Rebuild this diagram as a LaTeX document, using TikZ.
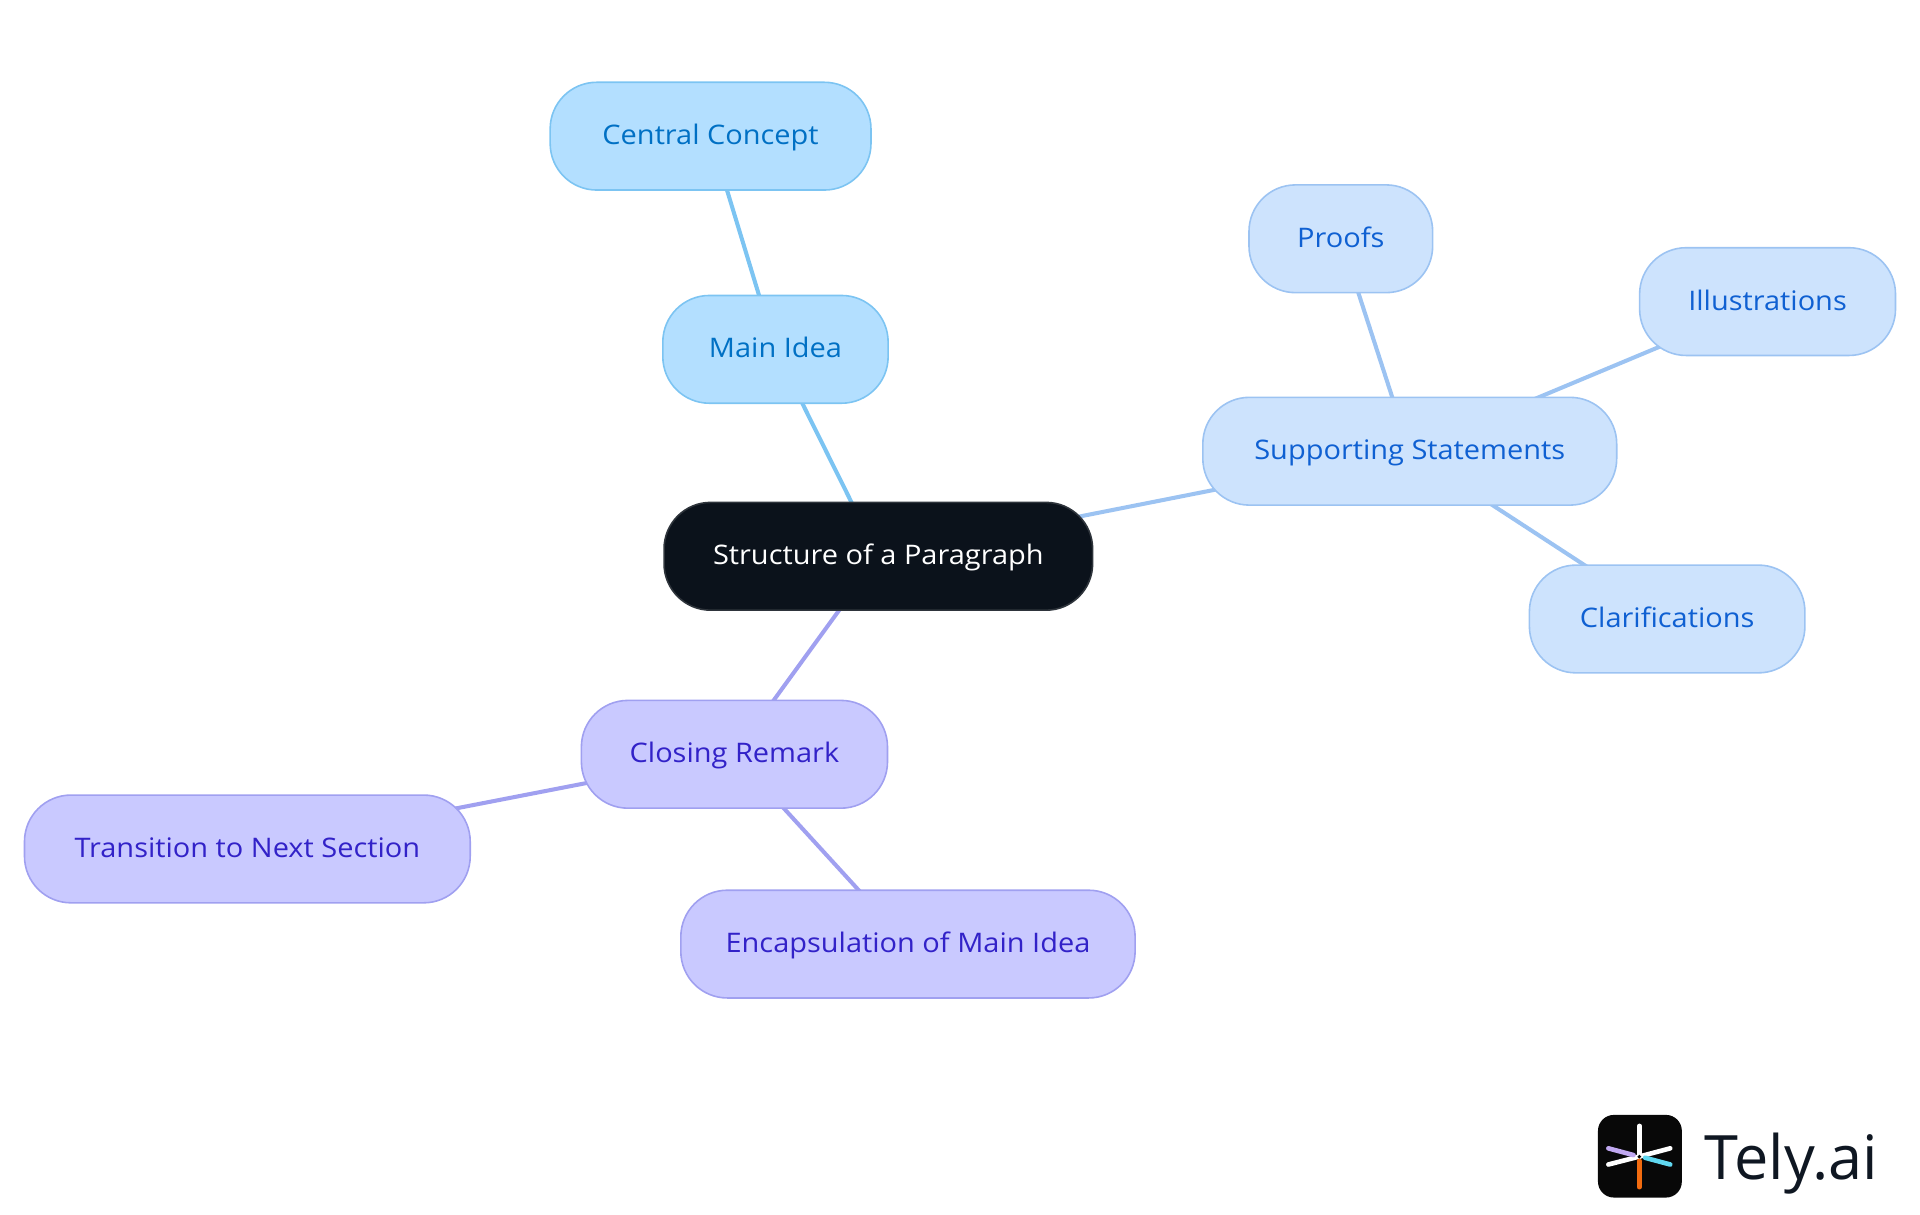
\documentclass[tikz,border=0pt]{standalone}
\usepackage{fontspec}
\setmainfont{Open Sans}
\newfontfamily\nodefont[FakeStretch=1.075]{Open Sans}
\usetikzlibrary{backgrounds}
\definecolor{skyfill}{HTML}{B3DFFF}
\definecolor{skyline}{HTML}{7CC4F2}
\definecolor{skytext}{HTML}{0070C4}
\definecolor{bluefill}{HTML}{CDE3FD}
\definecolor{blueline}{HTML}{9CC3F2}
\definecolor{bluetext}{HTML}{0F60D2}
\definecolor{violetfill}{HTML}{C9C9FF}
\definecolor{violetline}{HTML}{A0A0F0}
\definecolor{violettext}{HTML}{3222C8}
\definecolor{rootfill}{HTML}{0B121B}
\definecolor{rootline}{HTML}{2E343B}
\definecolor{logoink}{HTML}{0F1722}
\tikzset{
  x=1pt,y=-1pt,
  mm/.style={rectangle,rounded corners=38pt,line width=1.3pt,inner sep=0pt,minimum height=88pt,
    text height=18pt,text depth=4pt,
    font=\nodefont\fontsize{22pt}{26pt}\selectfont},
  sky/.style={mm,fill=skyfill,draw=skyline,text=skytext},
  blues/.style={mm,fill=bluefill,draw=blueline,text=bluetext},
  violets/.style={mm,fill=violetfill,draw=violetline,text=violettext},
  rootnode/.style={mm,fill=rootfill,draw=rootline,text=white},
  skyedge/.style={draw=skyline,line width=3.3pt},
  blueedge/.style={draw=blueline,line width=3.3pt},
  violetedge/.style={draw=violetline,line width=3.3pt},
  spoke/.style={line width=3.8pt,line cap=round},
}
\begin{document}
\begin{tikzpicture}
\useasboundingbox (0,0) rectangle (1568,992.25);
\node[rootnode,minimum width=350pt] (root) at (717.3,454.3) {Structure of a Paragraph};
\node[sky,minimum width=262pt] (central) at (580.3,111.2) {Central Concept};
\node[sky,minimum width=184pt] (main) at (633.3,285.3) {Main Idea};
\node[blues,minimum width=338pt] (support) at (1151.3,368.5) {Supporting Statements};
\node[blues,minimum width=150pt] (proofs) at (1095,195) {Proofs};
\node[blues,minimum width=209pt] (illus) at (1443.5,246.3) {Illustrations};
\node[blues,minimum width=225pt] (clar) at (1361.5,505.5) {Clarifications};
\node[violets,minimum width=250pt] (closing) at (599.8,616) {Closing Remark};
\node[violets,minimum width=364pt] (trans) at (202,693.3) {Transition to Next Section};
\node[violets,minimum width=371pt] (encap) at (741.5,771) {Encapsulation of Main Idea};
\begin{scope}[on background layer]
\draw[skyedge] (root.center) -- (main.center);
\draw[skyedge] (main.center) -- (central.center);
\draw[blueedge] (root.center) -- (support.center);
\draw[blueedge] (support.center) -- (proofs.center);
\draw[blueedge] (support.center) -- (illus.center);
\draw[blueedge] (support.center) -- (clar.center);
\draw[violetedge] (root.center) -- (closing.center);
\draw[violetedge] (closing.center) -- (trans.center);
\draw[violetedge] (closing.center) -- (encap.center);
\end{scope}
% logo
\fill[black!97!white,rounded corners=13pt] (1305,910.5) rectangle (1373.5,978);
\draw[spoke,white] (1338.8,944.5) -- (1338.8,919.5);
\draw[spoke,white] (1338.8,944.5) -- (1364,937.8);
\draw[spoke,white] (1338.8,944.5) -- (1313.5,951);
\draw[spoke,color={rgb,255:red,192;green,168;blue,240}] (1334,943.3) -- (1313.5,937.8);
\draw[spoke,color={rgb,255:red,96;green,216;blue,240}] (1343.5,945.5) -- (1364,951);
\draw[spoke,color={rgb,255:red,242;green,107;blue,15}] (1338.8,948) -- (1338.8,969.5);
\fill[black] (1338.8,944.6) circle (1.6pt);
\node[anchor=base west,inner sep=0pt,text=logoink,font=\fontsize{50pt}{56pt}\selectfont] (logo) at (1392,963) {Tely.ai};
\end{tikzpicture}
\end{document}
